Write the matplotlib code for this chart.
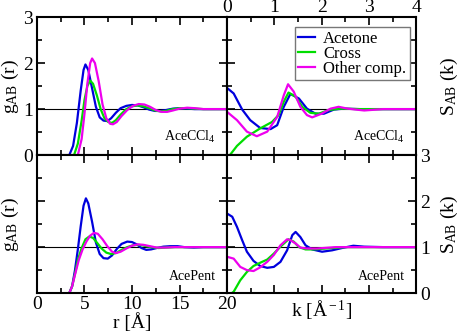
import numpy as np
import matplotlib
matplotlib.use('Agg')
import matplotlib.pyplot as plt
from matplotlib.ticker import MultipleLocator

plt.rcParams['font.family'] = ['Liberation Serif', 'DejaVu Serif']
plt.rcParams['mathtext.fontset'] = 'custom'
plt.rcParams['mathtext.rm'] = 'Liberation Serif'
plt.rcParams['mathtext.it'] = 'Liberation Serif:italic'

BLUE = '#0000dd'
GREEN = '#00dd00'
MAGENTA = '#ee00ee'

# ---- g_AB(r), AceCCl4 ----
r_ccl4_ace = [0, 3.4, 3.8, 4.2, 4.6, 4.9, 5.1, 5.4, 5.8, 6.2, 6.6, 7.0, 7.4, 7.8, 8.3, 8.8, 9.4, 10.0,
              10.6, 11.2, 11.8, 12.4, 13.0, 13.6, 14.3, 15.0, 15.8, 16.6, 17.5, 18.5, 20]
g_ccl4_ace = [0, 0.0, 0.2, 0.7, 1.4, 1.85, 1.97, 1.85, 1.45, 1.05, 0.82, 0.75, 0.74, 0.8, 0.92, 1.02, 1.07, 1.09,
              1.08, 1.04, 0.99, 0.96, 0.96, 0.98, 1.01, 1.02, 1.01, 1.0, 1.0, 1.0, 1.0]
r_ccl4_cross = [0, 3.9, 4.3, 4.7, 5.0, 5.3, 5.6, 5.9, 6.3, 6.7, 7.1, 7.5, 7.9, 8.3, 8.8, 9.4, 10.0, 10.6,
                11.2, 11.8, 12.4, 13.0, 13.6, 14.3, 15.0, 15.8, 16.6, 17.5, 20]
g_ccl4_cross = [0, 0.0, 0.25, 0.75, 1.2, 1.5, 1.62, 1.55, 1.3, 1.0, 0.8, 0.72, 0.7, 0.76, 0.88, 1.0, 1.06, 1.08,
                1.06, 1.02, 0.97, 0.95, 0.96, 1.0, 1.02, 1.02, 1.01, 1.0, 1.0]
r_ccl4_other = [0, 4.3, 4.7, 5.0, 5.3, 5.6, 5.8, 6.1, 6.5, 6.9, 7.3, 7.7, 8.0, 8.4, 8.9, 9.5, 10.1, 10.7,
                11.3, 11.9, 12.5, 13.1, 13.7, 14.3, 15.0, 15.8, 16.6, 17.5, 20]
g_ccl4_other = [0, 0.0, 0.35, 0.9, 1.55, 2.0, 2.1, 2.0, 1.6, 1.1, 0.8, 0.68, 0.67, 0.72, 0.85, 0.98, 1.07, 1.11,
                1.1, 1.05, 0.98, 0.94, 0.94, 0.97, 1.01, 1.03, 1.02, 1.0, 1.0]

# ---- g_AB(r), AcePent ----
r_pent_ace = [0, 3.4, 3.7, 4.0, 4.3, 4.6, 4.9, 5.15, 5.4, 5.8, 6.2, 6.6, 7.0, 7.45, 7.9, 8.4, 8.9, 9.5,
              10.0, 10.5, 11.0, 11.5, 12.0, 12.6, 13.3, 14.0, 14.8, 15.5, 16.5, 17.5, 20]
g_pent_ace = [0, 0.0, 0.15, 0.5, 0.95, 1.45, 1.9, 2.06, 1.95, 1.55, 1.1, 0.85, 0.76, 0.75, 0.82, 0.96, 1.07, 1.12,
              1.11, 1.06, 0.98, 0.94, 0.95, 0.98, 1.01, 1.02, 1.02, 1.0, 0.99, 1.0, 1.0]
r_pent_cross = [0, 3.4, 3.7, 4.0, 4.3, 4.7, 5.1, 5.5, 5.9, 6.3, 6.8, 7.3, 7.8, 8.3, 8.9, 9.5, 10.1, 10.7,
                11.3, 12.0, 12.8, 13.6, 14.5, 16, 20]
g_pent_cross = [0, 0.0, 0.15, 0.42, 0.72, 0.98, 1.17, 1.23, 1.2, 1.1, 0.97, 0.88, 0.85, 0.87, 0.94, 1.0, 1.04, 1.05,
                1.03, 1.0, 0.98, 0.99, 1.0, 1.0, 1.0]
r_pent_other = [0, 3.4, 3.7, 4.0, 4.4, 4.8, 5.2, 5.6, 6.0, 6.4, 6.9, 7.4, 7.9, 8.3, 8.8, 9.4, 10.0, 10.6,
                11.2, 11.9, 12.6, 13.5, 14.5, 16, 20]
g_pent_other = [0, 0.0, 0.15, 0.4, 0.72, 0.95, 1.12, 1.25, 1.31, 1.29, 1.17, 1.02, 0.9, 0.87, 0.9, 0.97, 1.03, 1.06,
                1.05, 1.02, 0.99, 0.99, 1.0, 1.0, 1.0]

# ---- S_AB(k), AceCCl4 ----
k_ccl4_ace = [0, 0.14, 0.32, 0.49, 0.70, 0.92, 1.06, 1.2, 1.34, 1.52, 1.69, 1.87, 2.05, 2.26, 2.47, 2.8, 3.5, 4.0]
s_ccl4_ace = [1.46, 1.34, 0.99, 0.76, 0.59, 0.565, 0.65, 1.05, 1.33, 1.23, 1.01, 0.9, 0.9, 0.99, 1.01, 1.0, 1.0, 1.0]
k_ccl4_cross = [0.06, 0.21, 0.42, 0.70, 0.95, 1.09, 1.2, 1.30, 1.45, 1.59, 1.76, 1.94, 2.15, 2.4, 2.8, 3.5, 4.0]
s_ccl4_cross = [0.0, 0.2, 0.4, 0.58, 0.72, 0.87, 1.16, 1.36, 1.27, 1.05, 0.92, 0.9, 0.98, 1.01, 1.0, 1.0, 1.0]
k_ccl4_other = [0, 0.21, 0.42, 0.63, 0.85, 1.06, 1.2, 1.29, 1.41, 1.55, 1.69, 1.80, 2.0, 2.19, 2.36, 2.55, 2.9,
                3.3, 4.0]
s_ccl4_other = [0.94, 0.76, 0.51, 0.41, 0.51, 0.83, 1.3, 1.54, 1.38, 1.05, 0.87, 0.82, 0.9, 1.01, 1.05, 1.01, 0.97,
                1.0, 1.0]

# ---- S_AB(k), AcePent ----
k_pent_ace = [0, 0.11, 0.21, 0.32, 0.42, 0.56, 0.70, 0.85, 0.99, 1.13, 1.27, 1.38, 1.45, 1.55, 1.66, 1.8, 2.01,
              2.22, 2.43, 2.67, 2.9, 3.3, 4.0]
s_pent_ace = [1.73, 1.66, 1.44, 1.15, 0.9, 0.7, 0.59, 0.55, 0.57, 0.68, 0.93, 1.26, 1.33, 1.22, 1.04, 0.95, 0.9,
              0.93, 0.98, 1.03, 1.01, 1.0, 1.0]
k_pent_cross = [0.1, 0.14, 0.28, 0.42, 0.56, 0.70, 0.85, 0.99, 1.13, 1.30, 1.41, 1.52, 1.66, 1.83, 2.1, 2.5, 4.0]
s_pent_cross = [0.0, 0.03, 0.28, 0.46, 0.59, 0.66, 0.73, 0.86, 1.01, 1.17, 1.12, 1.0, 0.95, 0.95, 0.97, 1.0, 1.0]
k_pent_other = [0, 0.14, 0.28, 0.42, 0.56, 0.70, 0.85, 0.99, 1.13, 1.27, 1.34, 1.45, 1.55, 1.69, 1.9, 2.3, 4.0]
s_pent_other = [0.79, 0.75, 0.57, 0.5, 0.48, 0.56, 0.68, 0.83, 1.04, 1.17, 1.15, 1.08, 0.99, 0.97, 0.97, 1.0, 1.0]

labels = ['Acetone', 'Cross', 'Other comp.']

fig = plt.figure(figsize=(4.74, 3.35), dpi=100)
ax_tl = fig.add_axes([0.078, 0.537, 0.401, 0.412])
ax_tr = fig.add_axes([0.479, 0.537, 0.399, 0.412])
ax_bl = fig.add_axes([0.078, 0.125, 0.401, 0.412])
ax_br = fig.add_axes([0.479, 0.125, 0.399, 0.412])

panels = [
    (ax_tl, [(r_ccl4_ace, g_ccl4_ace), (r_ccl4_cross, g_ccl4_cross), (r_ccl4_other, g_ccl4_other)], 20, 5, 2.5, 'AceCCl$_4$'),
    (ax_bl, [(r_pent_ace, g_pent_ace), (r_pent_cross, g_pent_cross), (r_pent_other, g_pent_other)], 20, 5, 2.5, 'AcePent'),
    (ax_tr, [(k_ccl4_ace, s_ccl4_ace), (k_ccl4_cross, s_ccl4_cross), (k_ccl4_other, s_ccl4_other)], 4, 1, 0.5, 'AceCCl$_4$'),
    (ax_br, [(k_pent_ace, s_pent_ace), (k_pent_cross, s_pent_cross), (k_pent_other, s_pent_other)], 4, 1, 0.5, 'AcePent'),
]

for ax, curves, xmax, major, minor, name in panels:
    ax.axhline(1.0, color='black', lw=0.8, zorder=1)
    for (x, y), c, lab in zip(curves, [BLUE, GREEN, MAGENTA], labels):
        ax.plot(x, y, color=c, lw=1.6, label=lab, zorder=2)
    ax.set_xlim(0, xmax)
    ax.set_ylim(0, 3)
    ax.xaxis.set_major_locator(MultipleLocator(major))
    ax.xaxis.set_minor_locator(MultipleLocator(minor))
    ax.yaxis.set_major_locator(MultipleLocator(1))
    ax.yaxis.set_minor_locator(MultipleLocator(0.5))
    ax.tick_params(which='both', direction='in', top=True, right=True, bottom=True, left=True,
                   labelbottom=False, labelleft=False, labelsize=14, width=1.2)
    ax.tick_params(which='major', length=6)
    ax.tick_params(which='minor', length=3.5)
    for sp in ax.spines.values():
        sp.set_linewidth(1.5)
    ax.text(0.94, 0.07, name, transform=ax.transAxes, ha='right', va='bottom', fontsize=10)

ax_tl.tick_params(labelleft=True, pad=3)
ax_tl.set_ylabel('g$_{\\rm AB}$ (r)', fontsize=14)
ax_bl.set_ylabel('g$_{\\rm AB}$ (r)', fontsize=14)
ax_bl.yaxis.set_label_coords(-0.085, 0.5)
ax_tl.yaxis.set_label_coords(-0.085, 0.5)
ax_bl.tick_params(labelbottom=True, pad=2)
ax_bl.set_xlabel('r [Å]', fontsize=14, labelpad=0)

ax_tr.tick_params(labeltop=True, pad=0.5)
ax_br.tick_params(labelright=True, pad=3)
ax_tr.yaxis.set_label_position('right')
ax_br.yaxis.set_label_position('right')
ax_tr.set_ylabel('S$_{\\rm AB}$ (k)', fontsize=14)
ax_br.set_ylabel('S$_{\\rm AB}$ (k)', fontsize=14)
ax_tr.yaxis.set_label_coords(1.12, 0.5)
ax_br.yaxis.set_label_coords(1.12, 0.5)
ax_br.set_xlabel('k [Å$^{\\rm -1}$]', fontsize=14, labelpad=4)

leg = ax_tr.legend(loc='upper right', bbox_to_anchor=(0.965, 0.925), fontsize=12, frameon=True,
                   fancybox=False, edgecolor='#777777', framealpha=1, borderpad=0.2,
                   labelspacing=-0.05, handlelength=1.0, handletextpad=0.5, borderaxespad=0)
leg.get_frame().set_linewidth(1.0)

fig.savefig('out.png', dpi=100)
